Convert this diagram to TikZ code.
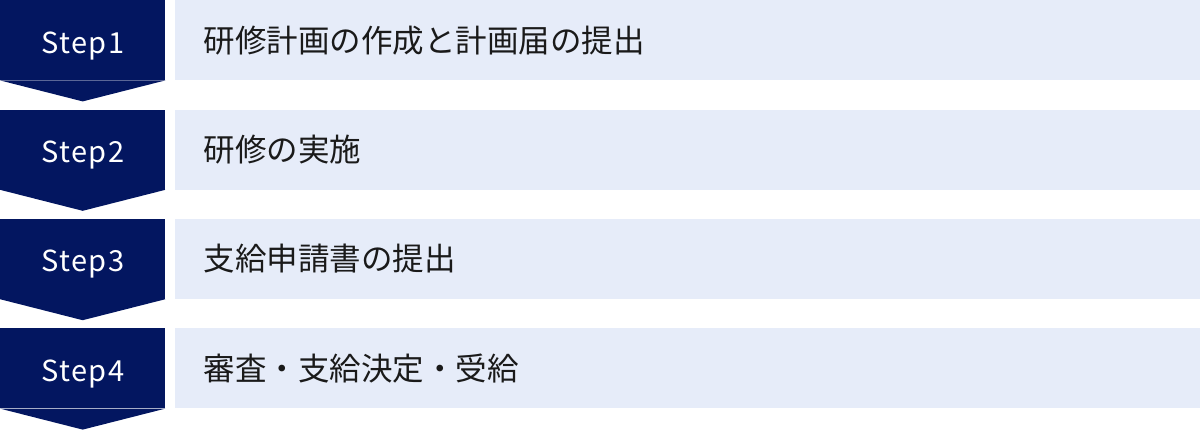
\documentclass[tikz,border=0pt]{standalone}
\usepackage{fontspec}
\setmainfont{Noto Sans CJK JP}
\newfontfamily\stepfont[LetterSpace=5]{Noto Sans CJK JP}
\usetikzlibrary{positioning, calc}
\definecolor{stepnavy}{RGB}{3,22,96}
\definecolor{rowblue}{RGB}{230,236,249}
\definecolor{rowtext}{RGB}{26,26,26}
\newcommand{\tipdepth}{21}
\newcommand{\steptip}[1]{\fill[stepnavy] (#1.south west) -- (#1.south east) -- ($(#1.south)+(0,-\tipdepth)$) -- cycle;}

\tikzset{
  stepbox/.style={fill=stepnavy, minimum width=165pt, minimum height=80pt, inner sep=0pt},
  rowbox/.style={fill=rowblue, minimum width=1026pt, minimum height=80pt, inner sep=0pt},
  steplabel/.style={text=white, font=\stepfont\fontsize{29}{29}\selectfont, inner sep=0pt, anchor=base},
  rowlabel/.style={text=rowtext, font=\fontsize{31.5}{31.5}\selectfont, inner sep=0pt},
}

\begin{document}
\begin{tikzpicture}[x=1pt, y=1pt]
    \useasboundingbox (0,0) rectangle (1200,-429);
    % step column
    \node[stepbox, anchor=north west] (s1) at (0,0) {};
    \node[stepbox, below=29pt of s1] (s2) {};
    \node[stepbox, below=29pt of s2] (s3) {};
    \node[stepbox, below=29pt of s3] (s4) {};
    \steptip{s1}
    \steptip{s2}
    \steptip{s3}
    \steptip{s4}
    \node[steplabel] (l1) at ($(s1.north)+(0,-53)$) {Step1};
    \node[steplabel] (l2) at ($(s2.north)+(0,-53)$) {Step2};
    \node[steplabel] (l3) at ($(s3.north)+(0,-53)$) {Step3};
    \node[steplabel] (l4) at ($(s4.north)+(0,-53)$) {Step4};
    % rows
    \node[rowbox, right=9pt of s1] (r1) {};
    \node[rowbox, right=9pt of s2] (r2) {};
    \node[rowbox, right=9pt of s3] (r3) {};
    \node[rowbox, right=9pt of s4] (r4) {};
    \node[rowlabel, right=29pt of r1.west] (t1) {研修計画の作成と計画届の提出};
    \node[rowlabel, right=29pt of r2.west] (t2) {研修の実施};
    \node[rowlabel, right=29pt of r3.west] (t3) {支給申請書の提出};
    \node[rowlabel, right=29pt of r4.west] (t4) {審査・支給決定・受給};
\end{tikzpicture}
\end{document}
